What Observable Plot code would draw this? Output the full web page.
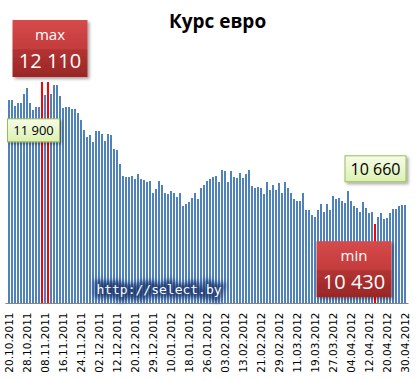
<!DOCTYPE html>
<html><head><meta charset="utf-8">
<script src="https://cdn.jsdelivr.net/npm/d3@7"></script>
<script src="https://cdn.jsdelivr.net/npm/@observablehq/plot@0.6"></script>
<style>html,body{margin:0;padding:0;background:#fff;} #chart svg{display:block}</style>
</head><body><div id="chart"></div>
<script>
const title = "Курс евро";
const watermark = "http://select.by";
const tickLabels = ["20.10.2011","28.10.2011","08.11.2011","16.11.2011","24.11.2011","02.12.2011",
  "12.12.2011","20.12.2011","29.12.2011","10.01.2012","18.01.2012","26.01.2012","03.02.2012",
  "13.02.2012","21.02.2012","29.02.2012","11.03.2012","19.03.2012","27.03.2012","04.04.2012",
  "12.04.2012","20.04.2012","30.04.2012"];
const labelStep = 6;
const values = [
  11900,11900,11830,11860,11860,11970,12040,11860,11780,11820,11820,12110,11960,12110,11970,12070,
  12070,11940,11800,11820,11820,11790,11790,11750,11660,11540,11460,11480,11400,11530,11530,11500,
  11410,11500,11480,11320,11310,11140,11000,10990,10990,11000,10960,11020,10960,10950,10930,10940,
  10800,10850,10940,10890,10800,10790,10820,10800,10750,10800,10640,10670,10690,10740,10800,10730,
  10860,10890,10940,10960,10990,11000,10930,11070,11060,10930,11060,10990,10980,11030,10980,11020,
  11070,10880,10860,10870,10860,10790,10930,10830,10890,10830,10920,10800,10930,10860,10800,10730,
  10700,10700,10800,10600,10600,10540,10520,10600,10670,10580,10670,10600,10760,10730,10740,10700,
  10680,10820,10710,10640,10620,10570,10690,10620,10560,10570,10430,10510,10560,10490,10500,10560,
  10610,10610,10640,10660,10660];
const yDomain = [9500, 12500];

const vmax = d3.max(values), vmin = d3.min(values);
const data = values.map((v, i) => ({i, v, hi: v === vmax || v === vmin}));
const fmt = v => String(v).replace(/\B(?=(\d{3})+(?!\d))/g, " ");

const plot = Plot.plot({
  width: 417, height: 381,
  marginTop: 49, marginBottom: 78, marginLeft: 5.5, marginRight: 8.5,
  style: {background: "white", color: "black", fontFamily: "DejaVu Sans"},
  x: {type: "band", domain: d3.range(values.length), padding: 0.33, axis: null, label: null},
  y: {domain: yDomain, axis: null, label: null},
  marks: [
    Plot.barY(data.filter(d => !d.hi), {x: "i", y1: yDomain[0], y2: "v", fill: "#4f81bd", shapeRendering: "crispEdges"}),
    Plot.barY(data.filter(d => d.hi), {x: "i", y1: yDomain[0], y2: "v", fill: "#ff0000", shapeRendering: "crispEdges"}),
    Plot.ruleY([yDomain[0]], {stroke: "#868686", strokeWidth: 1}),
    Plot.axisX({ticks: d3.range(0, values.length, labelStep), tickFormat: i => tickLabels[i / labelStep],
      tickRotate: -90, tickSize: 0, tickPadding: 9, fontSize: 10.5, fill: "black", label: null}),
    Plot.text([title], {frameAnchor: "top", dx: 10, dy: -28, lineAnchor: "middle",
      fontSize: 19, fontWeight: 700, fontFamily: "Open Sans", fill: "black"})
  ]
});
document.getElementById("chart").appendChild(plot);

// annotation layer tied to the data through the plot's scales
const X = plot.scale("x"), Y = plot.scale("y");
const cx = i => X.apply(i) + X.bandwidth / 2;
const svg = d3.select(plot);
const defs = svg.insert("defs", ":first-child");
const rg = defs.append("linearGradient").attr("id", "redG").attr("x1", 0).attr("y1", 0).attr("x2", 0).attr("y2", 1);
[["0", "#d64a4a"], ["0.5", "#c43c3c"], ["0.53", "#b23232"], ["1", "#9a2727"]].forEach(([o, c]) => rg.append("stop").attr("offset", o).attr("stop-color", c));
const gg = defs.append("linearGradient").attr("id", "greenG").attr("x1", 0).attr("y1", 0).attr("x2", 0).attr("y2", 1);
[["0", "#f6fce8"], ["1", "#dcf1b0"]].forEach(([o, c]) => gg.append("stop").attr("offset", o).attr("stop-color", c));
const sh = defs.append("filter").attr("id", "shadow").attr("x", "-20%").attr("y", "-20%").attr("width", "150%").attr("height", "150%");
sh.append("feDropShadow").attr("dx", 2).attr("dy", 2).attr("stdDeviation", 1.6).attr("flood-color", "#000").attr("flood-opacity", 0.35);
const bl = defs.append("filter").attr("id", "glow").attr("x", "-20%").attr("y", "-50%").attr("width", "140%").attr("height", "200%");
bl.append("feGaussianBlur").attr("stdDeviation", 2.5);

const layer = svg.append("g");
function box(x, y, w, h, fill, stroke) {
  layer.append("rect").attr("x", x).attr("y", y).attr("width", w).attr("height", h)
    .attr("fill", fill).attr("stroke", stroke || "none").attr("stroke-width", stroke ? 1 : 0)
    .attr("filter", "url(#shadow)");
}
function label(x, y, text, size, color, family, weight) {
  layer.append("text").attr("x", x).attr("y", y).attr("text-anchor", "middle")
    .attr("font-family", family || "Open Sans").attr("font-size", size).attr("font-weight", weight || 400)
    .attr("fill", color).text(text);
}
// watermark
const wmX = cx(50), wmY = Y.apply(yDomain[0]) - 9;
layer.append("text").attr("x", wmX).attr("y", wmY).attr("text-anchor", "middle")
  .attr("font-family", "DejaVu Sans Mono").attr("font-size", 13).attr("fill", "none")
  .attr("stroke", "#1b3a70").attr("stroke-width", 8).attr("stroke-opacity", 0.8)
  .attr("filter", "url(#glow)").text(watermark);
label(wmX, wmY, watermark, 13, "white", "DejaVu Sans Mono");

// max
const maxIdx = data.filter(d => d.v === vmax).map(d => d.i);
const maxC = d3.mean(maxIdx, cx) + 5, maxTop = Y.apply(vmax) - 62;
box(maxC - 37.5, maxTop, 75, 57, "url(#redG)");
label(maxC, maxTop + 20, "max", 15, "white");
label(maxC, maxTop + 48, fmt(vmax), 20, "white");
// min
const minIdx = data.find(d => d.v === vmin).i;
const minC = cx(minIdx) - 21, minTop = Y.apply(vmin) + 17;
box(minC - 37.5, minTop, 75, 56, "url(#redG)");
label(minC, minTop + 20, "min", 15, "white");
label(minC, minTop + 48, fmt(vmin), 20, "white");
// first value
const fTop = Y.apply(values[0]) + 19;
box(cx(0) - 1.5, fTop, 52, 23, "url(#greenG)", "#9bbb59");
label(cx(0) + 24.5, fTop + 16.5, fmt(values[0]), 13, "black");
// last value
const last = values.length - 1, lTop = Y.apply(values[last]) - 49;
box(cx(last) - 60, lTop, 61, 26, "url(#greenG)", "#9bbb59");
label(cx(last) - 29.5, lTop + 19, fmt(values[last]), 16, "black");
</script></body></html>
